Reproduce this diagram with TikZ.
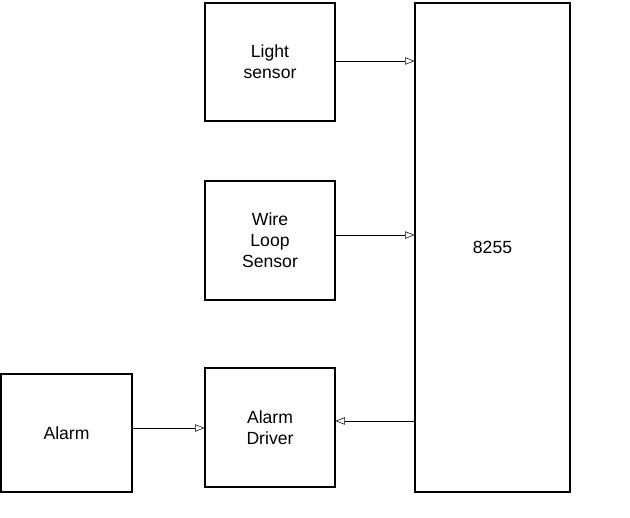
\documentclass[tikz,border=0pt]{standalone}
\usepackage{fontspec}
\setmainfont{Liberation Sans}
\usetikzlibrary{arrows.meta}
\tikzset{
  blk/.style={draw, thick, minimum width=#1, align=center, inner sep=0pt,
    font=\fontsize{13.2}{15.75}\selectfont},
  blk/.default=97.5pt,
  sig/.style={draw, -{Triangle[open, length=7pt, width=5.5pt]}}
}
\begin{document}
\begin{tikzpicture}[x=0.75pt, y=-0.75pt]
\useasboundingbox (0,0) rectangle (630,517);
\node[blk, minimum height=88.5pt] (light) at (270,62) {Light\\sensor};
\node[blk, minimum height=89.25pt] (wire) at (270,240.5) {Wire\\Loop\\Sensor};
\node[blk, minimum height=89.25pt] (drv) at (270,427.5) {Alarm\\Driver};
\node[blk=98.25pt, minimum height=88.5pt] (alarm) at (66.5,433) {Alarm};
\node[blk=116.25pt, minimum height=366.75pt] (chip) at (492.5,247.5) {8255};
\draw[sig] ([yshift=0.75pt]light.east) -- ([yshift=0.75pt]light.east -| chip.west);
\draw[sig] ([yshift=4.1pt]wire.east) -- ([yshift=4.1pt]wire.east -| chip.west);
\draw[sig] ([yshift=4.9pt]drv.east -| chip.west) -- ([yshift=4.9pt]drv.east);
\draw[sig] ([yshift=3.75pt]alarm.east) -- ([yshift=3.75pt]alarm.east -| drv.west);
\end{tikzpicture}
\end{document}
